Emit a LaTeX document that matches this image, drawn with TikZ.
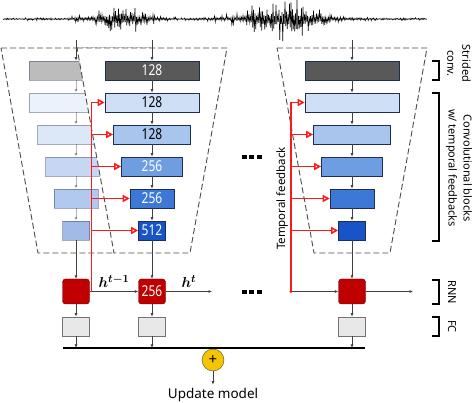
\documentclass[tikz,border=0pt]{standalone}
\usepackage{fontspec}
\usepackage{amsmath}
\setmainfont{Noto Sans}
\newfontfamily\numfont{Noto Sans}[FakeStretch=0.8]
\usetikzlibrary{arrows.meta, positioning}
\definecolor{stridegray}{RGB}{89,89,89}
\definecolor{blockA}{RGB}{207,223,246}
\definecolor{blockB}{RGB}{168,197,238}
\definecolor{blockC}{RGB}{110,157,226}
\definecolor{blockD}{RGB}{62,120,214}
\definecolor{blockE}{RGB}{22,84,199}
\definecolor{navyline}{RGB}{31,45,80}
\definecolor{rnnred}{RGB}{192,0,0}
\definecolor{fcgray}{RGB}{232,232,232}
\definecolor{addyellow}{RGB}{247,196,0}
\definecolor{fbred}{RGB}{255,25,25}

\begin{document}
\begin{tikzpicture}[
			x=1pt, y=-1pt,
			declare function={env(\t)=1.8+16*exp(max(-8,-((\t-120)/30)^2))+21*exp(max(-8,-((\t-282)/42)^2));},
			trap/.style={draw=black!70, fill=white, line width=0.9pt, dash pattern=on 6pt off 3pt},
			layer/.style={draw=navyline, line width=0.6pt, minimum height=19pt, inner sep=0pt, font=\numfont\fontsize{15}{15}\selectfont},
			rnn/.style={draw=rnnred!45!black, fill=rnnred, rounded corners=3pt, minimum width=27pt, minimum height=25pt, inner sep=0pt, text=white, font=\numfont\fontsize{15}{15}\selectfont},
			fc/.style={draw=black!55, fill=fcgray, minimum width=27pt, minimum height=19pt, line width=0.6pt},
			arrow/.style={-{Latex[length=3.5pt,width=3pt]}, draw=black!75, line width=0.7pt},
			feedback/.style={-{Triangle[open,length=7pt,width=7pt]}, draw=fbred, line width=1.5pt},
			bracket/.style={draw=black, line width=1.2pt},
			sidelabel/.style={rotate=-90, align=center, font=\fontsize{11}{15}\selectfont}
			]
			\useasboundingbox (0,0) rectangle (474,403);
			
			% audio input
			\pgfmathsetseed{11}
			\draw[line width=0.5pt] (3,19) \foreach \i in {1,...,565} { -- ({3+0.75*\i},{19+(2*mod(\i,2)-1)*env(3+0.75*\i)*(0.12+0.88*rnd*rnd)}) };
			
			% conv stacks, one per time step
			\foreach \col/\cx/\op/\lab in {a/76/0.4/0, b/152/1/1, c/352/1/0} {
				\draw[trap] (\cx-75,48) -- (\cx+75,48) -- (\cx+38,253) -- (\cx-38,253) -- cycle;
				\foreach \n/\w/\fillc/\txtc/\num in {1/94/stridegray/white/128, 2/94/blockA/black/128, 3/77/blockB/black/128, 4/61/blockC/white/256, 5/44/blockD/white/256, 6/27/blockE/white/512}
					\node[layer, minimum width=\w pt, fill=\fillc, text=\txtc, opacity=\op, text opacity=\lab] (\col\n) at (\cx,{70.5+32*(\n-1)}) {\num};
				\coordinate (in\col) at (\cx,40);
				\draw[arrow] (in\col) -- (\col1);
				\foreach \n in {2,...,6} {
					\pgfmathtruncatemacro\m{\n-1}
					\draw[arrow, opacity=\op] (\col\m) -- (\col\n);
				}
			}
			
			% RNN and FC
			\coordinate (busL) at (63,348);
			\coordinate (busR) at (365,348);
			\draw[line width=1.6pt] (busL) -- (busR);
			\foreach \col/\cx/\lab in {a/76/0, b/152/1, c/352/0} {
				\node[rnn, text opacity=\lab] (rnn\col) at (\cx,291.5) {256};
				\node[fc] (fc\col) at (\cx,326.5) {};
				\draw[arrow] (\col6) -- (rnn\col);
				\draw[arrow] (rnn\col) -- (fc\col);
				\draw[arrow] (fc\col) -- (fc\col |- busL);
			}
			
			% hidden state
			\coordinate (houtb) at (212,291.5);
			\coordinate (houtc) at (413,291.5);
			\coordinate (fbc) at (291,291.5);
			\draw[arrow] (rnna) -- node[above=0pt, font=\fontsize{15}{15}\selectfont] {$\boldsymbol{h^{t-1}}$} (rnnb);
			\draw[arrow] (rnnb) -- node[above=0pt, font=\fontsize{15}{15}\selectfont] {$\boldsymbol{h^{t}}$} (houtb);
			\draw[arrow] (fbc) -- (rnnc);
			\draw[arrow] (rnnc) -- (houtc);
			
			% temporal feedback
			\coordinate (fbb) at ([xshift=2pt]rnna.east);
			\draw[fbred, line width=1.5pt] (rnna.east) -- (fbb) -- (fbb |- b2.west);
			\draw[fbred, line width=1.5pt] (fbc) -- (fbc |- c2.west);
			\fill[fbred] (fbc) circle (1.6pt);
			\foreach \n in {2,...,6} {
				\draw[feedback] (fbb |- b\n.west) -- (b\n.west);
				\draw[feedback] (fbc |- c\n.west) -- (c\n.west);
			}
			\node[rotate=90, font=\fontsize{11.5}{15}\selectfont] (fblabel) at (282,198.5) {Temporal feedback};
			
			% dots
			\foreach \d in {244.5,251.5,259.5} {
				\fill (\d-2.5,154.8) rectangle (\d+2.5,159.2);
				\fill (\d-2.5,289.8) rectangle (\d+2.5,294.2);
			}
			
			% update
			\node[circle, draw=black!70, fill=addyellow, minimum size=22pt, inner sep=0pt, font=\fontsize{15}{15}\selectfont] (add) at (213,360) {+};
			\node[font=\fontsize{13.5}{13.5}\selectfont] (update) at (213,395) {Update model};
			\draw[arrow] (add) -- (update);
			
			% legend
			\draw[bracket] (432,61) -| (439,80) -- (432,80);
			\draw[bracket] (432,93) -| (439,241) -- (432,241);
			\draw[bracket] (432,280) -| (439,304) -- (432,304);
			\draw[bracket] (432,317) -| (439,336) -- (432,336);
			\node[sidelabel] (lstride) at (459,63.5) {Strided\\conv.};
			\node[sidelabel] (lconv) at (459,168) {Convolutional blocks\\w/ temporal feedbacks};
			\node[sidelabel] (lrnn) at (452,292) {RNN};
			\node[sidelabel] (lfc) at (452,326.5) {FC};
		\end{tikzpicture}
\end{document}
